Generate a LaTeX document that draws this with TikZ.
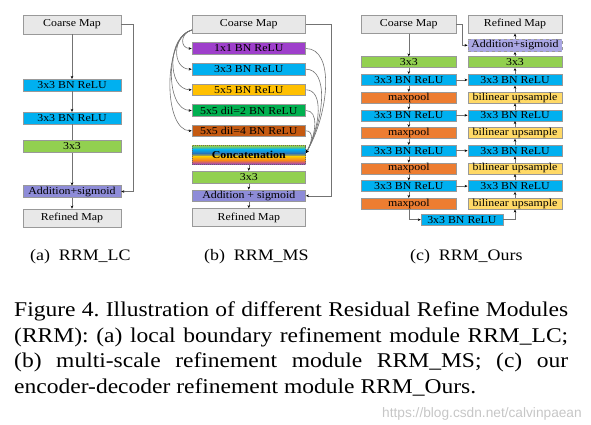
\documentclass[tikz,border=0pt]{standalone}
\usepackage{fontspec}
\setmainfont{Liberation Serif}[FakeStretch=1.12]
\newfontfamily\wmfont{Liberation Sans}
\usetikzlibrary{arrows.meta}
\definecolor{mapgray}{HTML}{E8E8E8}
\definecolor{bnblue}{HTML}{00B0F0}
\definecolor{convgreen}{HTML}{92D050}
\definecolor{addpurple}{HTML}{8E8CD8}
\definecolor{addlight}{HTML}{AAA7E4}
\definecolor{onepurple}{HTML}{9E3FCB}
\definecolor{fiveyellow}{HTML}{FFC000}
\definecolor{dilgreen}{HTML}{00B050}
\definecolor{dilbrown}{HTML}{C55A11}
\definecolor{poolorange}{HTML}{ED7D31}
\definecolor{upyellow}{HTML}{FFD966}
\definecolor{catblue}{HTML}{2E75B6}

\begin{document}
\begin{tikzpicture}[x=1pt, y=-1pt,
    blk/.style={draw=black!40, line width=0.5pt, inner sep=0pt, font=\fontsize{10.6}{12}\selectfont},
    boxa/.style={blk, minimum width=98pt, minimum height=11.7pt},
    boxb/.style={blk, minimum width=113.7pt, minimum height=11.8pt},
    boxc/.style={blk, minimum width=94.4pt, minimum height=11pt},
    ln/.style={draw=black!55, line width=0.6pt},
    arr/.style={ln, -{Stealth[length=3pt, width=2.6pt, color=black]}},
    sublabel/.style={anchor=base west, inner sep=0pt, font=\fontsize{16}{18}\selectfont}]
\useasboundingbox (0,0) rectangle (591,425);

% (a) RRM_LC
\node[boxa, fill=mapgray, minimum height=19pt] (acm) at (72,24.5) {Coarse Map};
\node[boxa, fill=bnblue] (ab1) at (72,85) {3x3 BN ReLU};
\node[boxa, fill=bnblue] (ab2) at (72,118) {3x3 BN ReLU};
\node[boxa, fill=convgreen] (aconv) at (72,146.5) {3x3};
\node[boxa, fill=addpurple] (aadd) at (72,191.5) {Addition+sigmoid};
\node[boxa, fill=mapgray, minimum height=18.7pt] (aref) at (72,218.3) {Refined Map};
\draw[arr] (acm) -- (ab1);
\draw[arr] (ab1) -- (ab2);
\draw[ln] (ab2) -- (aconv);
\draw[arr] (aconv) -- (aadd);
\draw[arr] (aadd) -- (aref);
\draw[arr] (acm.east) -- ++(11.7,0) |- (aadd.east);

% (b) RRM_MS
\node[boxb, fill=mapgray, minimum height=18.3pt] (bcm) at (248.8,24.2) {Coarse Map};
\node[boxb, fill=onepurple] (bone) at (248.8,48.5) {1x1 BN ReLU};
\node[boxb, fill=bnblue] (bthree) at (248.8,69.2) {3x3 BN ReLU};
\node[boxb, fill=fiveyellow] (bfive) at (248.8,89.8) {5x5 BN ReLU};
\node[boxb, fill=dilgreen, minimum height=12.3pt] (bdtwo) at (248.8,110.5) {5x5 dil=2 BN ReLU};
\node[boxb, fill=dilbrown] (bdfour) at (248.8,130.8) {5x5 dil=4 BN ReLU};
\foreach \ya/\yb/\ca/\cb in {145.7/149.4/convgreen/bnblue, 149.4/153.1/bnblue/catblue,
    153.1/156.9/catblue/fiveyellow, 156.9/160.6/fiveyellow/poolorange, 160.6/164.3/poolorange/onepurple}
  \shade[top color=\ca, bottom color=\cb] (192,\ya) rectangle (305.6,\yb);
\node[draw=black!60, dash pattern=on 1pt off 1pt, line width=0.5pt, inner sep=0pt,
    minimum width=113.7pt, minimum height=18.6pt, font=\bfseries\fontsize{10.6}{12}\selectfont]
    (bcat) at (248.8,155) {Concatenation};
\node[boxb, fill=convgreen, minimum height=12.3pt] (bconv) at (248.8,177.2) {3x3};
\node[boxb, fill=addpurple] (badd) at (248.8,195.8) {Addition + sigmoid};
\node[boxb, fill=mapgray, minimum height=18.3pt] (bref) at (248.8,217.5) {Refined Map};
\coordinate (bsrc) at (192,30);
\coordinate (btgt) at (306,153);
\foreach \n/\a in {bone/12, bthree/20, bfive/25, bdtwo/27, bdfour/29}
  \draw[arr] (bsrc) .. controls +(-\a,0.25*\a) and +(-\a,0) .. (\n.west);
\foreach \n/\b/\h in {bone/29/40, bthree/23/34, bfive/18/27, bdtwo/13/19, bdfour/8/11}
  \draw[arr] (\n.east) .. controls +(\b,0) and +(0.8*\b,-\h) .. (btgt);
\draw[arr] (bcat) -- (bconv);
\draw[arr] (bconv) -- (badd);
\draw[arr] (badd) -- (bref);
\draw[arr] (bcm.east) -- ++(25,0) |- (badd.east);

% (c) RRM_Ours
\node[boxc, fill=mapgray, minimum height=18.3pt] (ccm) at (408.8,24.2) {Coarse Map};
\node[boxc, fill=mapgray, minimum height=18.3pt] (cref) at (515,24.2) {Refined Map};
\node[boxc, fill=addlight, dashed, minimum height=12.7pt] (cadd) at (515,45.3) {Addition+sigmoid};
\node[boxc, fill=convgreen] (cl0) at (408.8,62.2) {3x3};
\node[boxc, fill=bnblue] (cl1) at (408.8,79.9) {3x3 BN ReLU};
\node[boxc, fill=poolorange] (cl2) at (408.8,97.6) {maxpool};
\node[boxc, fill=bnblue] (cl3) at (408.8,115.3) {3x3 BN ReLU};
\node[boxc, fill=poolorange] (cl4) at (408.8,133) {maxpool};
\node[boxc, fill=bnblue] (cl5) at (408.8,150.7) {3x3 BN ReLU};
\node[boxc, fill=poolorange] (cl6) at (408.8,168.4) {maxpool};
\node[boxc, fill=bnblue] (cl7) at (408.8,186.1) {3x3 BN ReLU};
\node[boxc, fill=poolorange] (cl8) at (408.8,203.7) {maxpool};
\node[boxc, fill=convgreen] (cr0) at (515,62.2) {3x3};
\node[boxc, fill=bnblue] (cr1) at (515,79.9) {3x3 BN ReLU};
\node[boxc, fill=upyellow] (cr2) at (515,97.6) {bilinear upsample};
\node[boxc, fill=bnblue] (cr3) at (515,115.3) {3x3 BN ReLU};
\node[boxc, fill=upyellow] (cr4) at (515,133) {bilinear upsample};
\node[boxc, fill=bnblue] (cr5) at (515,150.7) {3x3 BN ReLU};
\node[boxc, fill=upyellow] (cr6) at (515,168.4) {bilinear upsample};
\node[boxc, fill=bnblue] (cr7) at (515,186.1) {3x3 BN ReLU};
\node[boxc, fill=upyellow] (cr8) at (515,203.7) {bilinear upsample};
\node[boxc, fill=bnblue, minimum width=81.7pt, minimum height=10.7pt] (cbot) at (461.9,219.7) {3x3 BN ReLU};
\draw[arr] (ccm) -- (cl0);
\draw[arr] (cl0) -- (cl1);
\draw[arr] (cl1) -- (cl2);
\draw[arr] (cl2) -- (cl3);
\draw[arr] (cl3) -- (cl4);
\draw[arr] (cl4) -- (cl5);
\draw[arr] (cl5) -- (cl6);
\draw[arr] (cl6) -- (cl7);
\draw[arr] (cl7) -- (cl8);
\draw[arr] (cl8.south) |- (cbot.west);
\draw[arr] (cbot.east) -| (cr8.south);
\draw[arr] (cr8) -- (cr7);
\draw[arr] (cr7) -- (cr6);
\draw[arr] (cr6) -- (cr5);
\draw[arr] (cr5) -- (cr4);
\draw[arr] (cr4) -- (cr3);
\draw[arr] (cr3) -- (cr2);
\draw[arr] (cr2) -- (cr1);
\draw[arr] (cr1) -- (cr0);
\draw[arr] (cr0) -- (cadd);
\draw[arr] (cadd) -- (cref);
\draw[arr] (cl1) -- (cr1);
\draw[arr] (cl3) -- (cr3);
\draw[arr] (cl5) -- (cr5);
\draw[arr] (cl7) -- (cr7);
\draw[arr] (ccm.east) -- ++(5.7,0) |- (cadd.west);

% labels and caption
\node[sublabel] (suba) at (30,260) {(a)\hspace{0.55em}RRM\_LC};
\node[sublabel] (subb) at (204,260) {(b)\hspace{0.55em}RRM\_MS};
\node[sublabel] (subc) at (410,260) {(c)\hspace{0.55em}RRM\_Ours};
\node[anchor=base west, text width=554pt, align=justify, inner sep=0pt,
    font=\fontsize{21}{25.5}\selectfont]
    (capt) at (14,316.7) {\frenchspacing\tolerance=10000\relax\hyphenpenalty=10000\relax
    \exhyphenpenalty=10000\relax
    Figure 4. Illustration of different Residual Refine Modules\linebreak
    (RRM): (a) local boundary refinement module RRM\_LC;\linebreak
    (b) multi-scale refinement module RRM\_MS; (c) our\linebreak
    encoder-decoder refinement module RRM\_Ours.};
\node[anchor=base west, inner sep=0pt, text=gray!45, font=\wmfont\fontsize{13.7}{14}\selectfont]
    (wmark) at (382,417) {https://blog.csdn.net/calvinpaean};
\end{tikzpicture}
\end{document}
